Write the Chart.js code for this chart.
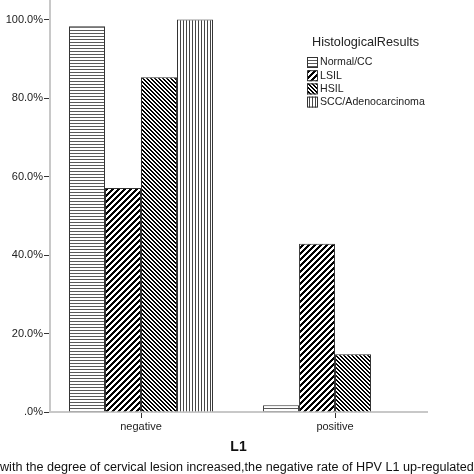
<!DOCTYPE html>
<html>
<head>
<meta charset="utf-8">
<script src="https://cdn.jsdelivr.net/npm/chart.js@4.4.1/dist/chart.umd.min.js"></script>
<style>
  html, body { margin: 0; padding: 0; background: #fff; }
  #wrap { width: 474px; height: 474px; position: relative; }
</style>
</head>
<body>
<div id="wrap"><canvas id="chart"></canvas></div>
<script>
// categories (x axis) and the four histological groups
const categories = ["negative", "positive"];
const seriesNames = ["Normal/CC", "LSIL", "HSIL", "SCC/Adenocarcinoma"];

// percent of each group
const normalValues = [98.3, 1.7];
const lsilValues = [57.1, 42.9];
const hsilValues = [85.3, 14.7];
const sccValues = [100.0, 0.0];

const yTickValues = [0, 20, 40, 60, 80, 100];
const yTickLabels = [".0%", "20.0%", "40.0%", "60.0%", "80.0%", "100.0%"];

const legendTitle = "HistologicalResults";
const xTitle = "L1";
const caption = "with the degree of cervical lesion increased,the negative rate of HPV L1 up-regulated";

const FONT = "'Liberation Sans', Arial, sans-serif";

// small tiles used as fill patterns (SPSS-like hatching)
function makePattern(size, test, ink) {
  const c = document.createElement("canvas");
  c.width = size;
  c.height = size;
  const g = c.getContext("2d");
  const img = g.createImageData(size, size);
  for (let y = 0; y < size; y++) {
    for (let x = 0; x < size; x++) {
      const i = (y * size + x) * 4;
      const on = test(x, y);
      const v = on ? ink : 255;
      img.data[i] = v;
      img.data[i + 1] = v;
      img.data[i + 2] = v;
      img.data[i + 3] = 255;
    }
  }
  g.putImageData(img, 0, 0);
  return g.createPattern(c, "repeat");
}

const patHoriz = makePattern(3, (x, y) => y % 3 === 0, 90);
const patLsil = makePattern(6, (x, y) => (x + y) % 6 < 3, 0);
const patHsil = makePattern(4, (x, y) => ((x - y) % 4 + 4) % 4 < 2, 0);
const patVert = makePattern(3, (x, y) => x % 3 === 0, 70);
const patterns = [patHoriz, patLsil, patHsil, patVert];

// legend drawn inside the plot, like the SPSS output
const legendPlugin = {
  id: "spssLegend",
  afterDraw(chart) {
    const ctx = chart.ctx;
    const x0 = 307;
    ctx.save();
    ctx.fillStyle = "#222";
    ctx.textBaseline = "middle";
    ctx.textAlign = "left";
    ctx.font = "12.7px " + FONT;
    ctx.fillText(legendTitle, 312, 42);
    ctx.font = "10.6px " + FONT;
    seriesNames.forEach((name, i) => {
      const cy = 62 + i * 13.2;
      ctx.fillStyle = patterns[i];
      ctx.fillRect(x0, cy - 5, 11, 11);
      ctx.strokeStyle = "#333";
      ctx.lineWidth = 1;
      ctx.strokeRect(x0 + 0.5, cy - 4.5, 10, 10);
      ctx.fillStyle = "#222";
      ctx.fillText(name, x0 + 13, cy + 0.5);
    });
    ctx.restore();
  }
};

// caption line under the chart
const captionPlugin = {
  id: "caption",
  afterDraw(chart) {
    const ctx = chart.ctx;
    ctx.save();
    ctx.font = "13px " + FONT;
    const w = ctx.measureText(caption).width;
    const size = 13 * 474 / w;
    ctx.font = size.toFixed(2) + "px " + FONT;
    ctx.fillStyle = "#111";
    ctx.textBaseline = "middle";
    ctx.textAlign = "left";
    ctx.fillText(caption, 0, 468);
    ctx.restore();
  }
};

const allValues = [normalValues, lsilValues, hsilValues, sccValues];

// x is numeric (category index) so the groups can sit a bit apart like SPSS does
new Chart(document.getElementById("chart"), {
  type: "bar",
  data: {
    datasets: seriesNames.map((name, i) => ({
      label: name,
      data: allValues[i].map((v, k) => ({ x: k, y: v })),
      backgroundColor: patterns[i],
      borderColor: "#333",
      borderWidth: 1,
      borderSkipped: "bottom",
      categoryPercentage: 0.742,
      barPercentage: 1.0
    }))
  },
  options: {
    responsive: true,
    maintainAspectRatio: false,
    animation: false,
    layout: { padding: { left: 0, right: 47, top: 0, bottom: 0 } },
    plugins: {
      legend: { display: false },
      tooltip: { enabled: false }
    },
    scales: {
      x: {
        type: "linear",
        min: -0.469,
        max: 1.474,
        offset: false,
        afterFit(scale) {
          scale.height = 62;
          scale.paddingLeft = 0;
          scale.paddingRight = 0;
        },
        afterBuildTicks(scale) {
          scale.ticks = categories.map((c, k) => ({ value: k }));
        },
        grid: {
          offset: false,
          drawOnChartArea: false,
          tickLength: 6,
          color: "#333"
        },
        border: { color: "#c8c8c8", width: 2 },
        ticks: {
          color: "#222",
          padding: 2,
          autoSkip: false,
          maxRotation: 0,
          font: { family: FONT, size: 11 },
          callback(value) {
            return categories[value] || "";
          }
        },
        title: {
          display: true,
          text: xTitle,
          color: "#111",
          font: { family: FONT, size: 14, weight: "bold" },
          padding: { top: 4, bottom: 18 }
        }
      },
      y: {
        min: 0,
        max: 105,
        afterFit(scale) {
          scale.width = 50;
          scale.paddingTop = 0;
          scale.paddingBottom = 0;
        },
        afterBuildTicks(scale) {
          scale.ticks = yTickValues.map(v => ({ value: v }));
        },
        grid: {
          drawOnChartArea: false,
          tickLength: 6,
          color: "#333"
        },
        border: { color: "#c8c8c8", width: 2 },
        ticks: {
          color: "#222",
          padding: 1,
          font: { family: FONT, size: 11 },
          callback(value) {
            const i = yTickValues.indexOf(value);
            return i >= 0 ? yTickLabels[i] : "";
          }
        }
      }
    }
  },
  plugins: [legendPlugin, captionPlugin]
});
</script>
</body>
</html>
